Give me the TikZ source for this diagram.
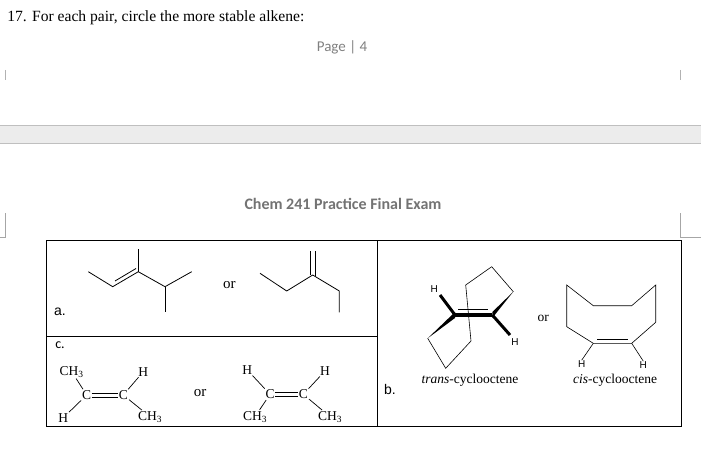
\documentclass[tikz,border=0pt]{standalone}
\usepackage{fontspec}
\setmainfont{Liberation Serif}
\newfontfamily\carl{Carlito}
\newfontfamily\arl{Liberation Sans}
\begin{document}
\begin{tikzpicture}[x=1pt,y=-1pt,line width=0.8pt,
  lab/.style={inner sep=0pt,font=\fontsize{13.5}{13.5}\selectfont},
  hl/.style={inner sep=0pt,font=\arl\fontsize{10}{10}\selectfont},
  bnd/.style={line width=0.7pt,shorten <=1pt,shorten >=1pt}]
\useasboundingbox (0,0) rectangle (701,449);
\node[anchor=west,inner sep=0pt,font=\fontsize{15.6}{15.6}\selectfont] (title) at (7,18) {17. For each pair, circle the more stable alkene:};
\node[inner sep=0pt,text=gray,font=\carl\fontsize{15}{15}\selectfont] (page) at (342,47) {Page | 4};
\draw[gray!60,line width=0.5pt] (5,70) -- (5,80) (680,70) -- (680,80);
\fill[gray!15] (0,125) rectangle (701,143);
\draw[gray!50,line width=0.6pt] (0,125) -- (701,125) (0,143) -- (701,143);
\node[inner sep=0pt,text=gray!90!black,font=\carl\bfseries\fontsize{16}{16}\selectfont] (hdr) at (343,204) {Chem 241 Practice Final Exam};
\draw[gray!70,line width=0.5pt] (0,237) -- (5,237) -- (5,213) (680,213) -- (680,237) -- (701,237);
% table
\draw[line width=0.8pt] (46,240) rectangle (681,426) (377,240) -- (377,426) (46,336) -- (377,336);
% a
\node[inner sep=0pt,font=\arl\fontsize{14}{14}\selectfont] (la) at (60,312) {a.};
\draw (88.3,271.7) -- (112.7,286.7) -- (138.3,271.7) -- (165,286.7) -- (191.7,271.7);
\draw (138.3,271.7) -- (138.3,249) (165,286.7) -- (165,312.3);
\draw (115,281) -- (136,268.5);
\node[lab,font=\fontsize{15}{15}\selectfont] (or1) at (229.3,285) {or};
\draw (260,273.3) -- (286.7,291) -- (312.7,275) -- (339.3,291) -- (339.3,312.3);
\draw (310.7,251) -- (310.7,275) (315.3,251) -- (315.3,276);
% c
\node[inner sep=0pt,font=\carl\fontsize{14}{14}\selectfont] (lc) at (60,345) {c.};
\node[lab] (m1a) at (71.7,371.7) {CH\textsubscript{3}};
\node[lab] (m1b) at (143.3,371.7) {H};
\node[lab] (m1c) at (86.7,395) {C};
\node[lab] (m1d) at (123.3,395) {C};
\node[lab] (m1e) at (63.3,417.7) {H};
\node[lab] (m1f) at (150,416.7) {CH\textsubscript{3}};
\draw[line width=0.6pt] ([yshift=-2pt]m1c.east) -- ([yshift=-2pt]m1d.west) ([yshift=2pt]m1c.east) -- ([yshift=2pt]m1d.west);
\draw[bnd] (m1a) -- (m1c); \draw[bnd] (m1b) -- (m1d);
\draw[bnd] (m1e) -- (m1c); \draw[bnd] (m1f) -- (m1d);
\node[lab,font=\fontsize{15}{15}\selectfont] (or2) at (200,393.3) {or};
\node[lab] (m2a) at (247.3,370) {H};
\node[lab] (m2b) at (325,371) {H};
\node[lab] (m2c) at (270,394.3) {C};
\node[lab] (m2d) at (303.3,394.3) {C};
\node[lab] (m2e) at (255,416.7) {CH\textsubscript{3}};
\node[lab] (m2f) at (330,416.7) {CH\textsubscript{3}};
\draw[line width=0.6pt] ([yshift=-2pt]m2c.east) -- ([yshift=-2pt]m2d.west) ([yshift=2pt]m2c.east) -- ([yshift=2pt]m2d.west);
\draw[bnd] (m2a) -- (m2c); \draw[bnd] (m2b) -- (m2d);
\draw[bnd] (m2e) -- (m2c); \draw[bnd] (m2f) -- (m2d);
% b
\node[inner sep=0pt,font=\arl\fontsize{14}{14}\selectfont] (lb) at (390,389) {b.};
\draw[line width=0.6pt] (491.7,266.7) -- (513.3,291.7) (491.7,266.7) -- (465.7,285) -- (471,341) -- (445.7,368.3) -- (427.7,338.3);
\draw[line width=0.6pt] (458.3,309) -- (488.3,309);
\fill (492.3,312) -- (492.3,318) -- (513.3,291.7) -- cycle;
\fill (455,312) -- (455,318) -- (427.7,338.3) -- cycle;
\draw[line width=4pt] (455,315) -- (492.3,315);
\draw[line width=3pt] (440,295) -- (455,315) (492.3,315) -- (510,335);
\node[hl] (h1) at (434.3,289.3) {H};
\node[hl] (h2) at (515,342.3) {H};
\node[lab] (tn) at (470,380.7) {\textit{trans}-cyclooctene};
\node[lab] (or3) at (543.3,318.3) {or};
\draw[line width=0.6pt] (566.7,285) -- (593.3,305.7) -- (631.7,305.7) -- (655.7,285) -- (655.7,322.3) -- (631.7,343.3) -- (593.3,343.3) -- (566.7,326.7) -- cycle;
\draw[line width=0.6pt] (597,339) -- (628,339);
\node[hl] (h3) at (581.7,364) {H};
\node[hl] (h4) at (643.3,365) {H};
\draw[line width=0.6pt] (593.3,343.3) -- (h3.north) (631.7,343.3) -- (h4.north);
\node[lab] (cn) at (615,380.7) {\textit{cis}-cyclooctene};
\end{tikzpicture}
\end{document}
